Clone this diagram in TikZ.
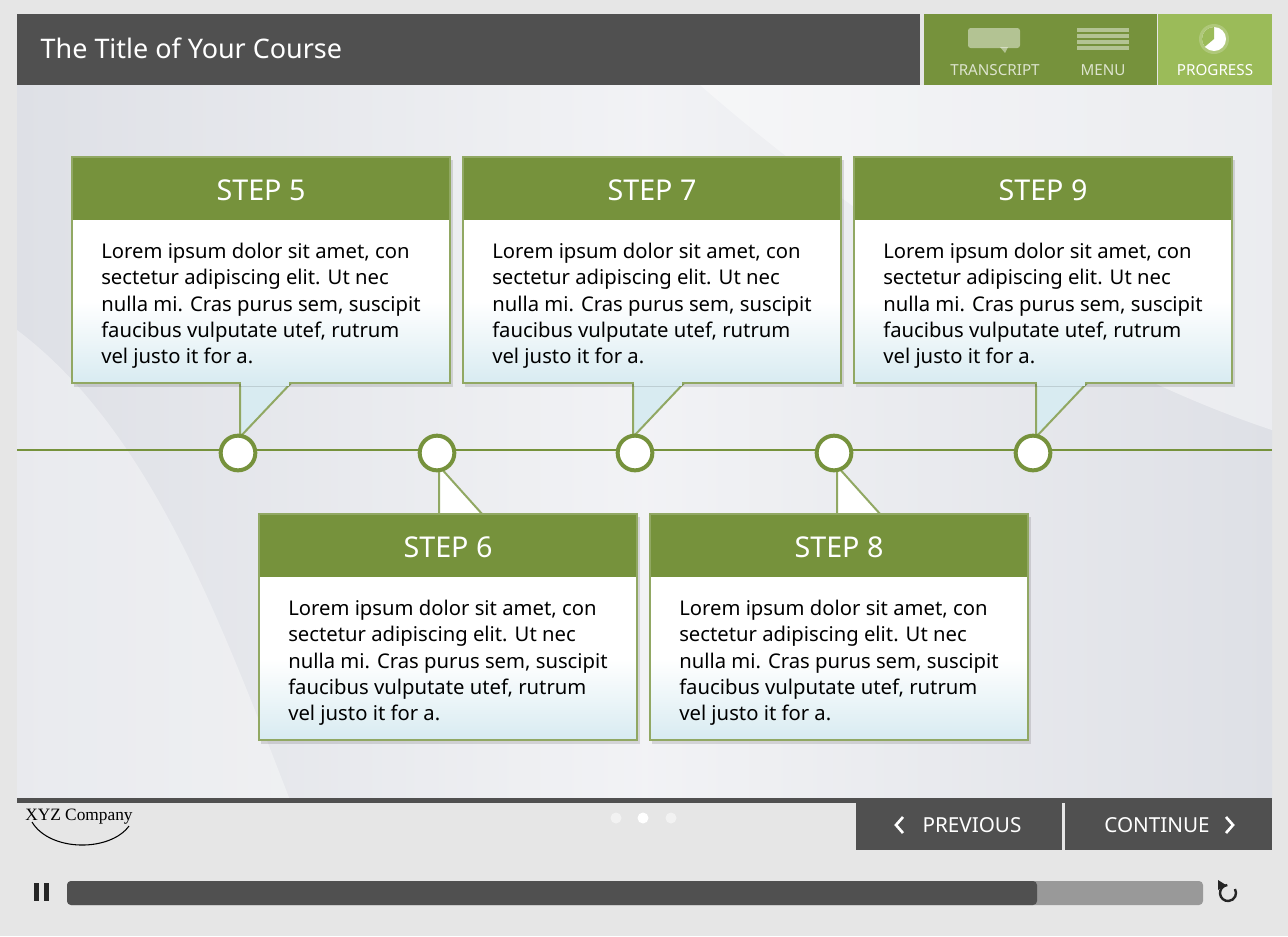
\documentclass[tikz,border=0pt]{standalone}
\usepackage{fontspec}
\setmainfont{Noto Sans}
\setsansfont{Noto Sans}
\newfontfamily\logofont{Liberation Serif}
\usetikzlibrary{calc}
\definecolor{stepgreen}{HTML}{76923C}
\definecolor{lightgreen}{HTML}{9BBB59}
\definecolor{darkbar}{HTML}{505050}
\definecolor{paleblue}{HTML}{D8EBF1}
\definecolor{pagegray}{HTML}{E6E6E6}
\definecolor{stagegray}{HTML}{DEE0E6}
\tikzstyle{boxline}=[draw=stepgreen!80,line width=1.5pt]
\tikzstyle{steptitle}=[text=white,font=\fontsize{21.5}{24}\selectfont]
\tikzstyle{bodytext}=[anchor=north west,align=left,inner sep=0pt,font=\fontsize{15.2}{19.7}\selectfont]
\tikzstyle{dot}=[circle,draw=stepgreen,line width=3pt,fill=white,minimum size=26pt,inner sep=0pt]
% #1 left x, #2 top y, #3 title, #4 node name
\newcommand{\drawstep}[4]{
\pgfmathsetmacro{\xl}{#1}
\pgfmathsetmacro{\yt}{#2}
\fill[black,opacity=0.12] (\xl+2,\yt+3) rectangle (\xl+381,\yt+230);
\shade[top color=white,bottom color=paleblue,middle color=white] (\xl,\yt+63) rectangle (\xl+378,\yt+226);
\fill[stepgreen] (\xl,\yt) rectangle (\xl+378,\yt+63);
\draw[boxline] (\xl,\yt) rectangle (\xl+378,\yt+226);
\node[steptitle] (#4) at (\xl+189,\yt+33) {#3};
\node[bodytext] (#4text) at (\xl+29,\yt+86) {Lorem ipsum dolor sit amet, con\\sectetur adipiscing elit. Ut nec\\nulla mi. Cras purus sem, suscipit\\faucibus vulputate utef, rutrum\\vel justo it for a.};
}
\begin{document}
\begin{tikzpicture}[x=0.75pt,y=-0.75pt]
\useasboundingbox (0,0) rectangle (1288,936);
\fill[pagegray] (0,0) rectangle (1288,936);
% stage
\shade[left color=stagegray,right color=stagegray,middle color=white!60!stagegray] (17,85) rectangle (1272,800);
\fill[white,opacity=0.35] (17,330) .. controls (150,430) and (220,620) .. (290,800) -- (17,800) -- cycle;
\fill[white,opacity=0.4] (700,85) .. controls (900,260) and (1120,380) .. (1272,430) -- (1272,85) -- cycle;
% header
\fill[darkbar] (17,14) rectangle (920,85);
\node[anchor=west,text=white,font=\fontsize{20.2}{24}\selectfont] (title) at (36,48) {The Title of Your Course};
\fill[stepgreen] (924,14) rectangle (1157,85);
\fill[lightgreen] (1158,14) rectangle (1272,85);
\fill[white,opacity=0.45,rounded corners=2pt] (968,28) rectangle (1020,48);
\fill[white,opacity=0.45] (1000,47) -- (1008,47) -- (1005,53) -- cycle;
\foreach \y in {28,34,40,46}
  \fill[white,opacity=0.45] (1077,\y) rectangle (1129,\y+4);
\fill[white,opacity=0.2] (1214,39) circle (15);
\fill[white] (1214,39) circle (12);
\fill[lightgreen] (1214,39) -- (1214,27) arc (-90:-220:12) -- cycle;
\node[text=white!75!stepgreen,font=\fontsize{11.4}{13}\selectfont] (transcript) at (995,70) {TRANSCRIPT};
\node[text=white!75!stepgreen,font=\fontsize{11.4}{13}\selectfont] (menu) at (1103,70) {MENU};
\node[text=white,font=\fontsize{11.4}{13}\selectfont] (progress) at (1215,70) {PROGRESS};
% timeline
\draw[stepgreen,line width=0.8pt] (17,450) -- (1272,450);
% pointers
\foreach \px in {240,633,1036}
  \filldraw[fill=paleblue,draw=stepgreen!80,line width=1.5pt] (\px,382) -- (\px,437) -- (\px+52,382);
\foreach \px in {439,837}
  \filldraw[fill=white,draw=stepgreen!80,line width=1.5pt] (\px,466) -- (\px,515) -- (\px+44,515) -- cycle;
% boxes
\drawstep{72}{157}{STEP 5}{stepa}
\drawstep{463}{157}{STEP 7}{stepc}
\drawstep{854}{157}{STEP 9}{stepe}
\drawstep{259}{514}{STEP 6}{stepb}
\drawstep{650}{514}{STEP 8}{stepd}
\foreach \px in {240,633,1036}
  \fill[paleblue] (\px+1,382) rectangle (\px+49,386);
% circles
\node[dot] (c5) at (238,453) {};
\node[dot] (c6) at (437,453) {};
\node[dot] (c7) at (635,453) {};
\node[dot] (c8) at (834,453) {};
\node[dot] (c9) at (1033,453) {};
% footer
\fill[darkbar] (17,798) rectangle (1272,803);
\node[anchor=west,font=\logofont\fontsize{13}{15}\selectfont,inner sep=0pt] (logo) at (25,817) {XYZ Company};
\draw[line width=0.8pt] (32,822) .. controls (50,852) and (110,852) .. (129,826);
\foreach \x/\o in {616/0.5,643/1,671/0.5}
  \fill[white,opacity=\o] (\x,818) circle (5.5);
\fill[darkbar] (856,800) rectangle (1062,850);
\fill[darkbar] (1065,800) rectangle (1272,850);
\node[text=white,font=\fontsize{15.5}{18}\selectfont] (prev) at (972,825) {PREVIOUS};
\node[text=white,font=\fontsize{15.5}{18}\selectfont] (cont) at (1157,825) {CONTINUE};
\draw[white,line width=2pt] (903,817) -- (896,825) -- (903,833);
\draw[white,line width=2pt] (1226,817) -- (1233,825) -- (1226,833);
% player
\fill[black!85] (34,883) rectangle (39,901);
\fill[black!85] (44,883) rectangle (49,901);
\fill[black!40,rounded corners=3pt] (67,881) rectangle (1203,905);
\fill[darkbar,rounded corners=3pt] (67,881) rectangle (1037,905);
\draw[black!85,line width=1.8pt] (1228,893) ++(-95:8) arc (-95:-390:8);
\fill[black!85] (1218,880) -- (1226,885) -- (1218,890) -- cycle;
\end{tikzpicture}
\end{document}
